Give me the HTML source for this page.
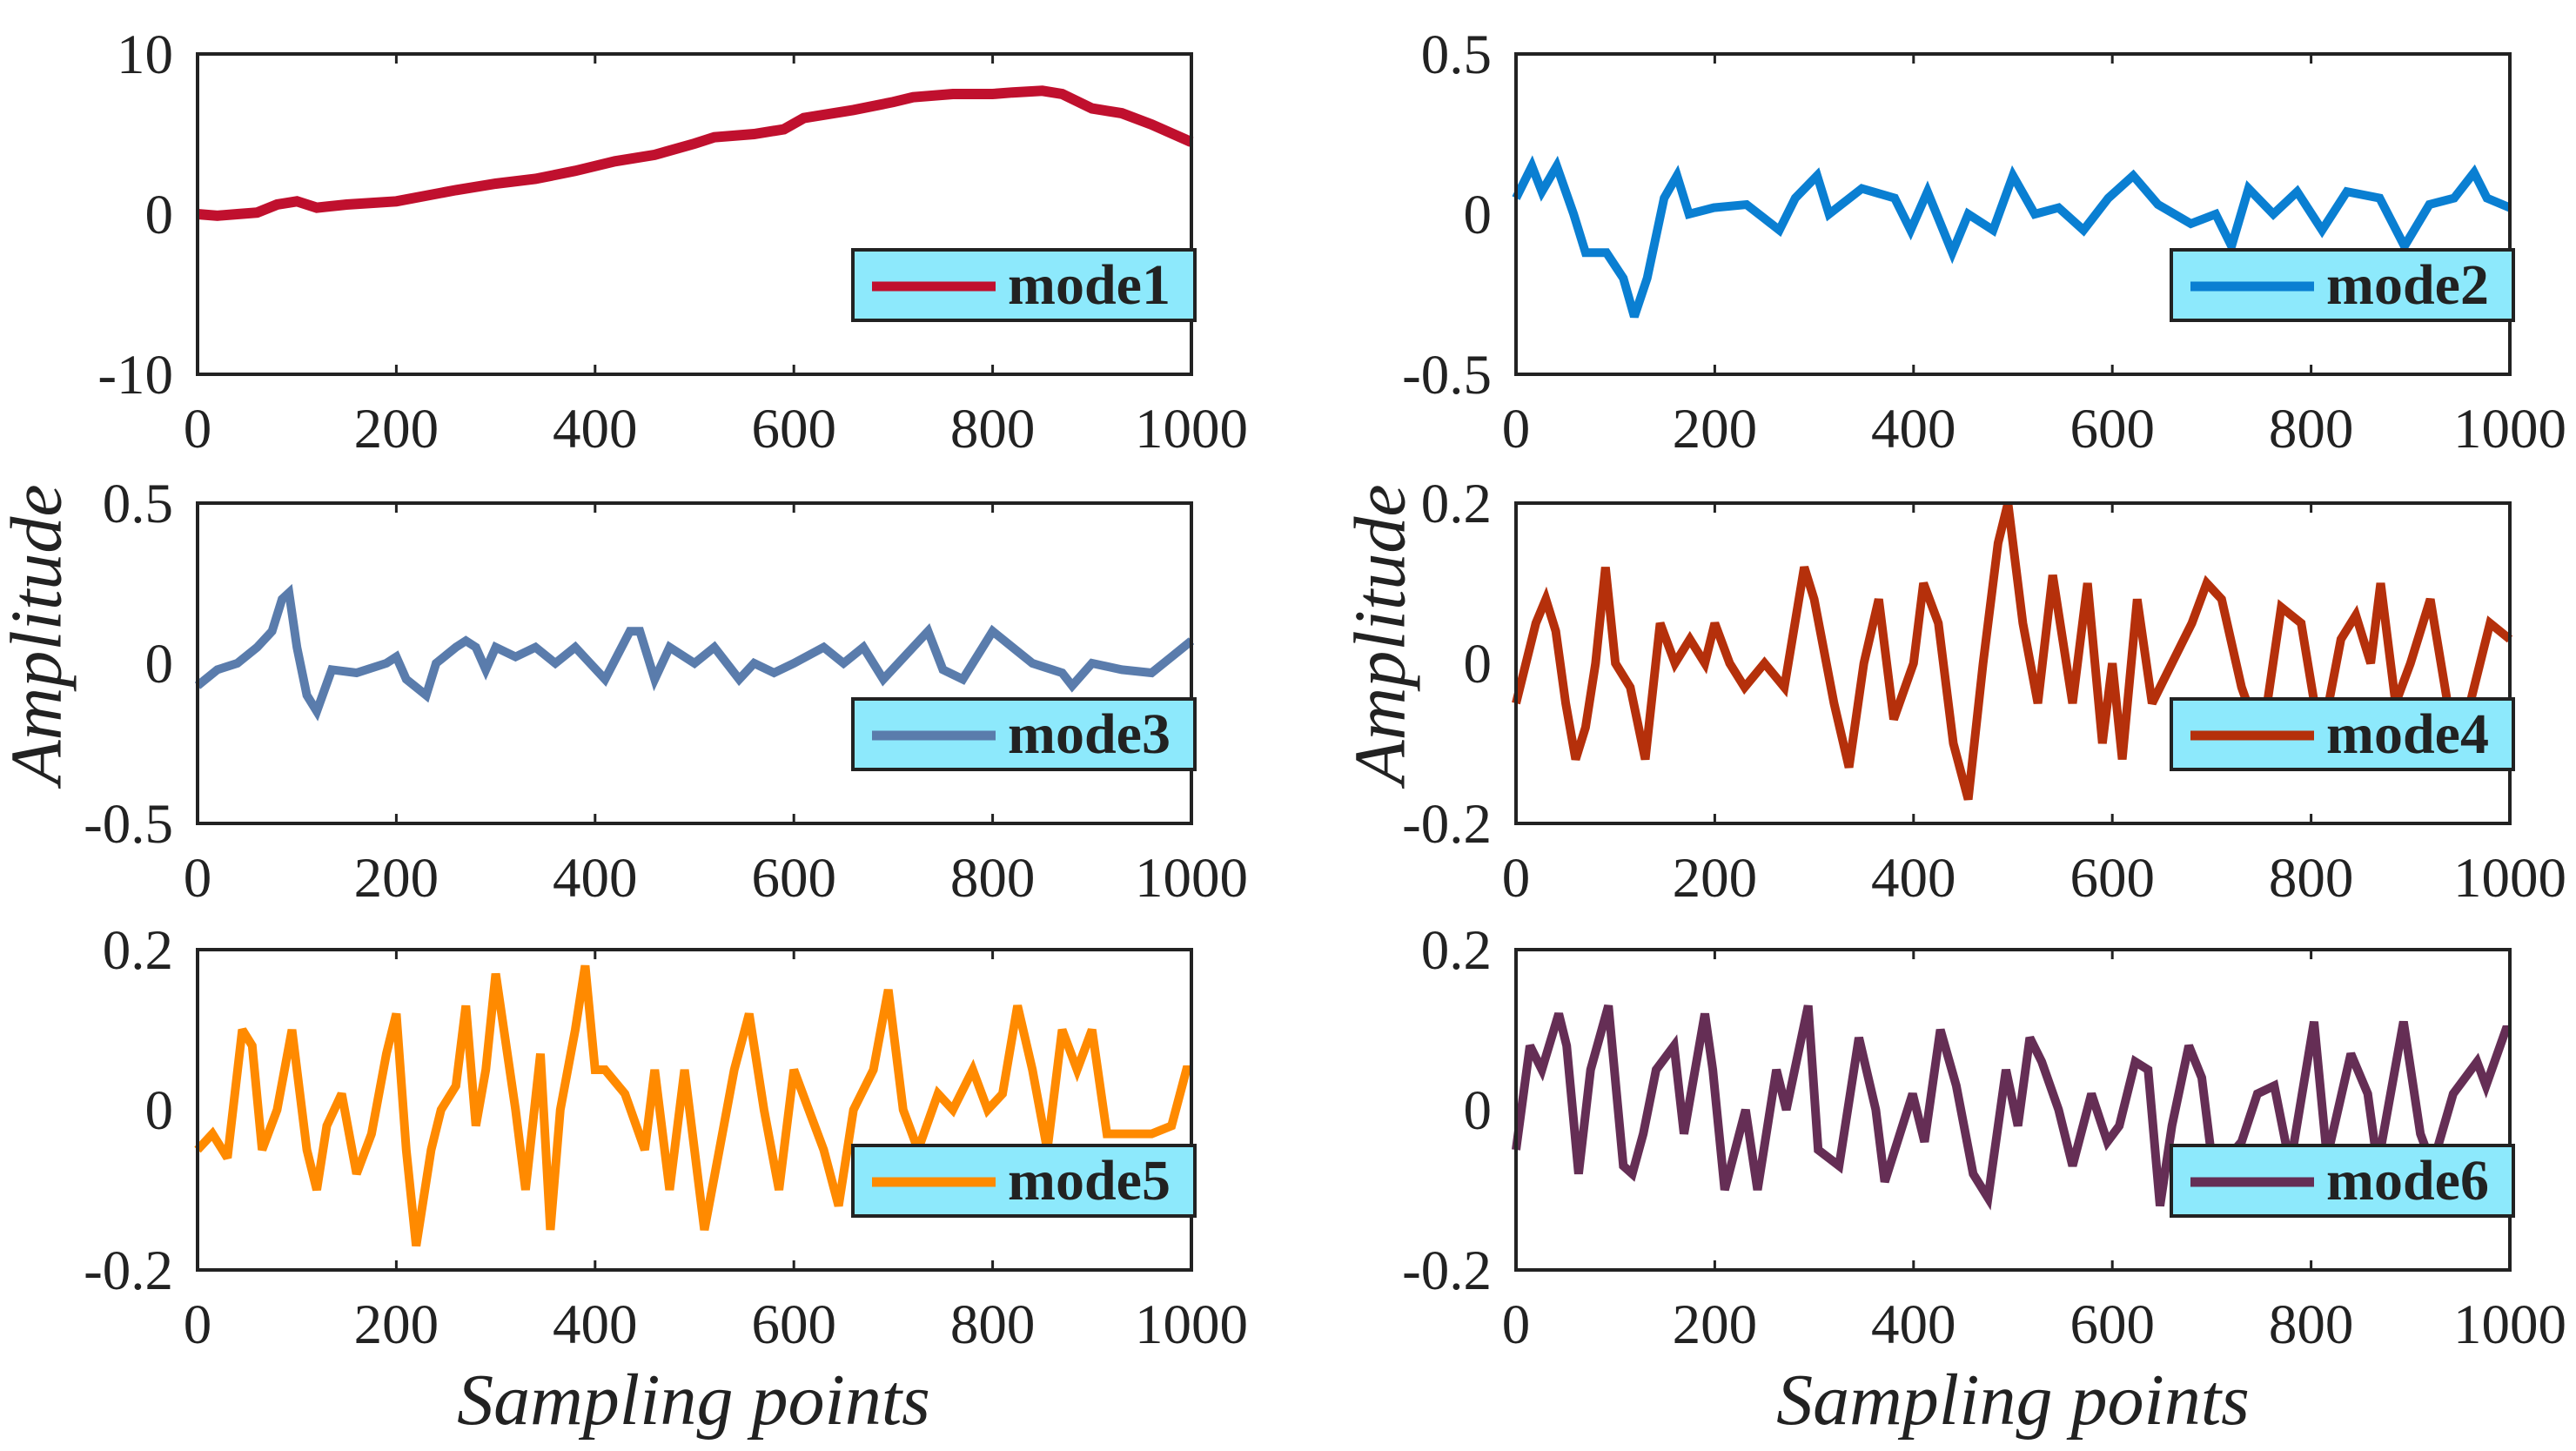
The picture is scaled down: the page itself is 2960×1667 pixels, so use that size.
<!DOCTYPE html>
<html><head><meta charset="utf-8"><style>
html,body{margin:0;padding:0;background:#fff;}
svg{display:block;}
text{font-family:"Liberation Serif",serif;fill:#222;}
</style></head><body>
<svg id="chart" width="2960" height="1667" viewBox="0 0 2960 1667" xmlns="http://www.w3.org/2000/svg"></svg>
<script>
const xTicks=[0,200,400,600,800,1000];
const m1x=[0,20,40,60,80,100,120,150,200,260,300,340,380,420,460,500,520,560,590,610,660,700,720,760,800,820,850,870,900,930,960,1000];
const m1y=[0,-0.1,0,0.1,0.6,0.8,0.4,0.6,0.8,1.5,1.9,2.2,2.7,3.3,3.7,4.4,4.8,5.0,5.3,6.0,6.5,7.0,7.3,7.5,7.5,7.6,7.7,7.5,6.6,6.3,5.6,4.5];
const m2x=[0,16,26,41,58,70,91,108,119,132,149,162,174,199,232,265,281,303,315,348,381,397,414,439,455,480,500,522,546,571,596,621,646,679,704,720,737,762,786,811,836,869,894,919,944,964,977,1000];
const m2y=[0.05,0.15,0.07,0.15,0.0,-0.12,-0.12,-0.2,-0.32,-0.2,0.05,0.12,0.0,0.02,0.03,-0.05,0.05,0.12,0.0,0.08,0.05,-0.05,0.07,-0.12,0.0,-0.05,0.12,0.0,0.02,-0.05,0.05,0.12,0.03,-0.03,0.0,-0.1,0.08,0.0,0.07,-0.05,0.07,0.05,-0.1,0.03,0.05,0.13,0.05,0.02];
const m3x=[0,20,40,60,75,85,92,100,110,120,135,160,190,200,210,230,240,260,270,280,290,300,320,340,360,380,395,410,435,445,460,475,500,520,545,560,580,600,630,650,670,690,720,735,750,770,790,800,820,840,870,880,900,930,960,980,1000];
const m3y=[-0.07,-0.02,0.0,0.05,0.1,0.2,0.22,0.05,-0.1,-0.15,-0.02,-0.03,0.0,0.02,-0.05,-0.1,0.0,0.05,0.07,0.05,-0.02,0.05,0.02,0.05,0.0,0.05,0.0,-0.05,0.1,0.1,-0.05,0.05,0.0,0.05,-0.05,0.0,-0.03,0.0,0.05,0.0,0.05,-0.05,0.05,0.1,-0.02,-0.05,0.05,0.1,0.05,0.0,-0.03,-0.07,0.0,-0.02,-0.03,0.02,0.07];
const m4x=[0,10,20,30,40,50,60,70,80,90,100,115,130,145,160,175,190,200,215,230,250,270,290,300,320,335,350,365,380,400,410,425,440,455,470,485,495,510,525,540,560,575,590,600,610,625,640,660,680,695,710,730,750,770,790,810,830,845,860,870,885,900,920,940,960,980,1000];
const m4y=[-0.05,0.0,0.05,0.08,0.04,-0.05,-0.12,-0.08,0.0,0.12,0.0,-0.03,-0.12,0.05,0.0,0.03,0.0,0.05,0.0,-0.03,0.0,-0.03,0.12,0.08,-0.05,-0.13,0.0,0.08,-0.07,0.0,0.1,0.05,-0.1,-0.17,0.0,0.15,0.2,0.05,-0.05,0.11,-0.05,0.1,-0.1,0.0,-0.12,0.08,-0.05,0.0,0.05,0.1,0.08,-0.03,-0.1,0.07,0.05,-0.1,0.03,0.06,0.0,0.1,-0.05,0.0,0.08,-0.07,-0.05,0.05,0.03];
const m5x=[0,15,30,45,55,65,80,95,110,120,130,145,160,175,190,200,210,220,235,245,260,270,280,290,300,320,330,345,355,365,380,390,400,410,430,450,460,475,490,510,525,540,555,570,585,600,615,630,645,660,680,695,710,725,745,760,780,795,810,825,840,855,870,885,900,915,940,960,980,995,1000];
const m5y=[-0.05,-0.03,-0.06,0.1,0.08,-0.05,0.0,0.1,-0.05,-0.1,-0.02,0.02,-0.08,-0.03,0.07,0.12,-0.05,-0.17,-0.05,0.0,0.03,0.13,-0.02,0.05,0.17,0.0,-0.1,0.07,-0.15,0.0,0.1,0.18,0.05,0.05,0.02,-0.05,0.05,-0.1,0.05,-0.15,-0.05,0.05,0.12,0.0,-0.1,0.05,0.0,-0.05,-0.12,0.0,0.05,0.15,0.0,-0.05,0.02,0.0,0.05,0.0,0.02,0.13,0.05,-0.05,0.1,0.05,0.1,-0.03,-0.03,-0.03,-0.02,0.05,0.05];
const m6x=[0,14,26,43,51,63,75,93,108,117,128,141,159,169,190,198,210,231,243,262,272,294,304,325,345,362,371,399,411,427,443,460,475,493,505,517,529,546,560,579,595,607,623,636,648,660,677,690,702,730,746,763,779,803,816,840,857,867,893,910,922,943,967,976,996,1000];
const m6y=[-0.05,0.08,0.05,0.12,0.08,-0.08,0.05,0.13,-0.07,-0.08,-0.03,0.05,0.08,-0.03,0.12,0.05,-0.1,0.0,-0.1,0.05,0.0,0.13,-0.05,-0.07,0.09,0.0,-0.09,0.02,-0.04,0.1,0.03,-0.08,-0.11,0.05,-0.02,0.09,0.06,0.0,-0.07,0.02,-0.04,-0.02,0.06,0.05,-0.12,-0.02,0.08,0.04,-0.08,-0.04,0.02,0.03,-0.07,0.11,-0.06,0.07,0.02,-0.07,0.11,-0.03,-0.07,0.02,0.06,0.03,0.1,0.1];

const NS='http://www.w3.org/2000/svg';
const svg=document.getElementById('chart');
function mk(tag,attrs,parent){const e=document.createElementNS(NS,tag);for(const k in attrs)e.setAttribute(k,attrs[k]);(parent||svg).appendChild(e);return e;}

const colsX=[227,1742], W=1142, rowsY=[62,578,1091], H=368;
const panels=[
 {xs:m1x,ys:m1y,min:-10,max:10,yt:["-10","0","10"],yv:[-10,0,10],col:'#c0102e',name:'mode1',r:0,c:0},
 {xs:m2x,ys:m2y,min:-0.5,max:0.5,yt:["-0.5","0","0.5"],yv:[-0.5,0,0.5],col:'#0a7fd2',name:'mode2',r:0,c:1},
 {xs:m3x,ys:m3y,min:-0.5,max:0.5,yt:["-0.5","0","0.5"],yv:[-0.5,0,0.5],col:'#5a7cac',name:'mode3',r:1,c:0},
 {xs:m4x,ys:m4y,min:-0.2,max:0.2,yt:["-0.2","0","0.2"],yv:[-0.2,0,0.2],col:'#b5300b',name:'mode4',r:1,c:1},
 {xs:m5x,ys:m5y,min:-0.2,max:0.2,yt:["-0.2","0","0.2"],yv:[-0.2,0,0.2],col:'#ff8a00',name:'mode5',r:2,c:0},
 {xs:m6x,ys:m6y,min:-0.2,max:0.2,yt:["-0.2","0","0.2"],yv:[-0.2,0,0.2],col:'#652e55',name:'mode6',r:2,c:1}
];
panels.forEach(p=>{
 const L=colsX[p.c],T=rowsY[p.r];
 const sx=v=>L+v/1000*W;
 const sy=v=>T+H-(v-p.min)/(p.max-p.min)*H;
 const g=mk('g',{});
 
 
 let d='';
 p.xs.forEach((x,i)=>{d+=(i?'L':'M')+sx(x).toFixed(1)+' '+sy(p.ys[i]).toFixed(1)+' ';});
 const path=mk('path',{d:d,fill:'none',stroke:p.col,'stroke-width':p.name==='mode1'?12:10,'stroke-linejoin':'miter','stroke-miterlimit':3},g);
 
 
 const frame=mk('rect',{x:L,y:T,width:W,height:H,fill:'none',stroke:'#222','stroke-width':4},g);
 
 
 xTicks.forEach(t=>{
  const x=sx(t);
  mk('line',{x1:x,y1:T,x2:x,y2:T+11,stroke:'#222','stroke-width':3},g);
  mk('line',{x1:x,y1:T+H,x2:x,y2:T+H-11,stroke:'#222','stroke-width':3},g);
  const tx=mk('text',{x:x,y:T+H+84,'font-size':65,'text-anchor':'middle'},g);
  tx.textContent=t;
  
  
 });
 p.yv.forEach((v,i)=>{
  const ty=mk('text',{x:L-28,y:sy(v)+22,'font-size':65,'text-anchor':'end'},g);
  ty.textContent=p.yt[i];
  
  
 });
 const lg=mk('g',{},g);
 
 
 const LX=L+W+4-393, LY=T+225;
 mk('rect',{x:LX,y:LY,width:393,height:81,fill:'#8de9fc',stroke:'#222','stroke-width':4},lg);
 mk('line',{x1:LX+22,y1:LY+42,x2:LX+164,y2:LY+42,stroke:p.col,'stroke-width':11},lg);
 const lt=mk('text',{x:LX+178,y:LY+62,'font-size':66,'font-weight':'bold'},lg);
 lt.textContent=p.name;
});
[[50,729],[1594,729]].forEach(([x,y])=>{
 const t=mk('text',{x:x,y:y,'font-size':84,'font-style':'italic','text-anchor':'middle',transform:'rotate(-90 '+x+' '+y+')','dominant-baseline':'middle'});
 t.textContent='Amplitude';
 
 
});
[[797,1636],[2313,1636]].forEach(([x,y])=>{
 const t=mk('text',{x:x,y:y,'font-size':84,'font-style':'italic','text-anchor':'middle'});
 t.textContent='Sampling points';
 
 
});
</script>
</body></html>
